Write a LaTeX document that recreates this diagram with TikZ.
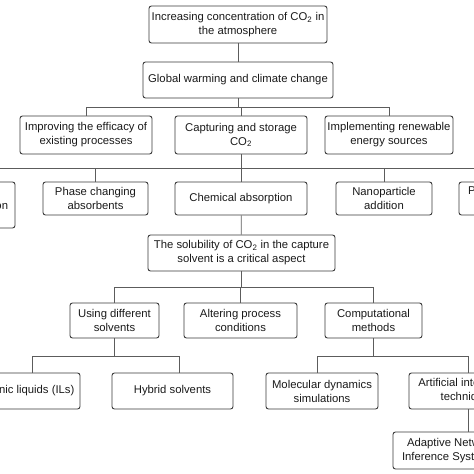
\documentclass[tikz,border=0pt]{standalone}
\usepackage{fontspec}
\setmainfont{Liberation Sans}
\usetikzlibrary{positioning}
\definecolor{boxgray}{HTML}{3A3A3A}
\definecolor{linkgray}{HTML}{5C5C5C}
\definecolor{textdark}{HTML}{1A1A1A}
\tikzset{
  box/.style={draw=boxgray, line width=0.9pt, rounded corners=2.5pt, align=center,
    inner sep=0pt, text=textdark, font=\fontsize{11.3}{14}\selectfont},
  sz/.style 2 args={minimum width=#1pt, minimum height=#2pt},
  link/.style={draw=linkgray, line width=0.8pt},
}

\begin{document}
\begin{tikzpicture}[x=1pt, y=-1pt]
        \useasboundingbox (0,0) rectangle (474,474);
        \clip (0,0) rectangle (474,474);

        % Cause and effect
        \node[box, sz={178}{37}] (rise) at (238,24.5) {Increasing concentration of CO\textsubscript{2} in\\the atmosphere};
        \node[box, sz={190}{36}] (warm) at (238,80) {Global warming and climate change};

        % Mitigation routes
        \node[box, sz={132}{38}] (improve) at (86,135) {Improving the efficacy of\\existing processes};
        \node[box, sz={132}{38}] (capture) at (241,135) {Capturing and storage\\CO\textsubscript{2}};
        \node[box, sz={128}{38}] (renew) at (389,135) {Implementing renewable\\energy sources};

        % Capture methods
        \node[box, sz={88}{46}] (membrane) at (-29,205) {Membrane\\gas separation\\units};
        \node[box, sz={105}{33}] (phase) at (95.5,198.5) {Phase changing\\absorbents};
        \node[box, sz={132}{33}] (chem) at (241,198.5) {Chemical absorption};
        \node[box, sz={96}{33}] (nano) at (384,198.5) {Nanoparticle\\addition};
        \node[box, sz={116}{33}] (phys) at (517,198.5) {Physical absorption\\processes};

        % Solubility
        \node[box, sz={187}{36}] (solub) at (241.5,253) {The solubility of CO\textsubscript{2} in the capture\\solvent is a critical aspect};

        \node[box, sz={89}{35}] (solvents) at (114.5,320.5) {Using different\\solvents};
        \node[box, sz={113}{35}] (alter) at (240.5,320.5) {Altering process\\conditions};
        \node[box, sz={97}{35}] (comp) at (373.5,320.5) {Computational\\methods};

        \node[box, sz={96}{36}] (ionic) at (32,391) {Ionic liquids (ILs)};
        \node[box, sz={121}{36}] (hybrid) at (172.5,391) {Hybrid solvents};
        \node[box, sz={112}{36}] (molec) at (322,391) {Molecular dynamics\\simulations};
        \node[box, sz={118}{36}] (ai) at (468,391) {Artificial intelligence\\techniques};
        \node[box, sz={150}{37}] (anfis) at (468,450.5) {Adaptive Network Fuzzy\\Inference System (ANFIS)};

        % Connectors
        \draw[link] (rise) -- (warm);
        \coordinate (busA) at ([yshift=-9pt]warm.south);
        \draw[link] (warm) -- (busA) -| (improve);
        \draw[link] (busA) -| (renew);
        \draw[link] (busA) -| (capture);

        \coordinate (busB) at ([yshift=-14pt]capture.south);
        \draw[link] (capture) -- (busB) -| (membrane);
        \draw[link] (busB) -| (phys);
        \draw[link] (busB) -| (phase);
        \draw[link] (busB) -| (nano);
        \draw[link] (busB) -- (chem);

        \draw[link] (chem) -- (solub);
        \coordinate (busC) at ([yshift=-16pt]solub.south);
        \draw[link] (solub) -- (busC) -| (solvents);
        \draw[link] (busC) -| (comp);
        \draw[link] (busC) -| (alter);

        \coordinate (busD) at ([yshift=-18pt]solvents.south);
        \draw[link] (solvents) -- (busD) -| (ionic);
        \draw[link] (busD) -| ([xshift=7pt]hybrid.north);

        \coordinate (busE) at ([yshift=-18pt]comp.south);
        \draw[link] (comp) -- (busE) -| ([xshift=-5pt]molec.north);
        \draw[link] (busE) -| (ai);

        \draw[link] (ai) -- (anfis);
    \end{tikzpicture}
\end{document}
